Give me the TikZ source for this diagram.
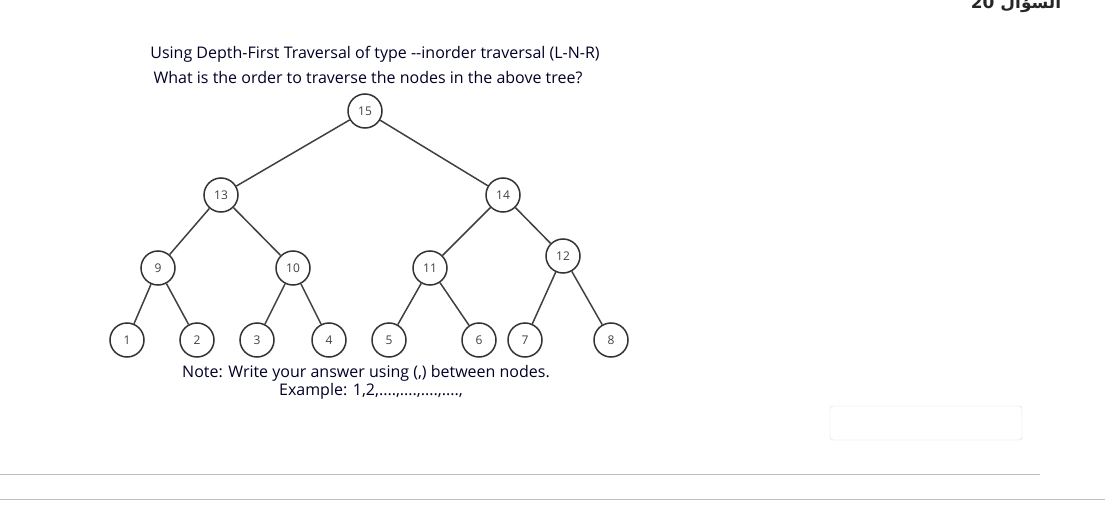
\documentclass[tikz,border=0pt]{standalone}
\usepackage{fontspec}
\setmainfont{Open Sans}
\newfontfamily\arabicfont[Script=Arabic]{DejaVu Sans}
\TeXXeTstate=1
\begin{document}
\begin{tikzpicture}[x=1pt,y=-1pt,
  tn/.style={circle,draw=black!80,line width=1.5pt,minimum size=34pt,inner sep=0pt,font=\fontsize{12}{13}\selectfont,text=black!75},
  ed/.style={draw=black!75,line width=1.5pt},
  tx/.style={font=\fontsize{16}{18}\selectfont,text=black!85!blue}]
\useasboundingbox (0,0) rectangle (1105,505);
\node[tn] (n15) at (365,111) {15};
\node[tn] (n13) at (221,195) {13};
\node[tn] (n14) at (503,195) {14};
\node[tn] (n9) at (158,268) {9};
\node[tn] (n10) at (293,268) {10};
\node[tn] (n11) at (430,268) {11};
\node[tn] (n12) at (563,256) {12};
\node[tn] (n1) at (127,340) {1};
\node[tn] (n2) at (197,340) {2};
\node[tn] (n3) at (257,340) {3};
\node[tn] (n4) at (329,340) {4};
\node[tn] (n5) at (389,340) {5};
\node[tn] (n6) at (479,340) {6};
\node[tn] (n7) at (525,340) {7};
\node[tn] (n8) at (611,340) {8};
\foreach \a/\b in {15/13,15/14,13/9,13/10,9/1,9/2,10/3,10/4,14/11,14/12,11/5,11/6,12/7,12/8}
  \draw[ed] (n\a) -- (n\b);
\node[tx] (t1) at (375,54) {Using Depth-First Traversal of type -{}-inorder traversal (L-N-R)};
\node[tx] (t2) at (368,78) {What is the order to traverse the nodes in the above tree?};
\node[tx] (t3) at (366,373) {Note: Write your answer using (,) between nodes.};
\node[tx] (t4) at (371,391) {Example: 1,2,....,....,....,....,};
\node[font=\arabicfont\bfseries\fontsize{17}{19}\selectfont,text=black!85] (q) at (1016,4) {\beginR السؤال 20\endR};
\node[draw=black!15,rounded corners=3pt,minimum width=192pt,minimum height=34pt] (box) at (926,423) {};
\draw[black!25] (0,474) -- (1040,474);
\draw[black!25] (0,499) -- (1105,499);
\end{tikzpicture}
\end{document}
